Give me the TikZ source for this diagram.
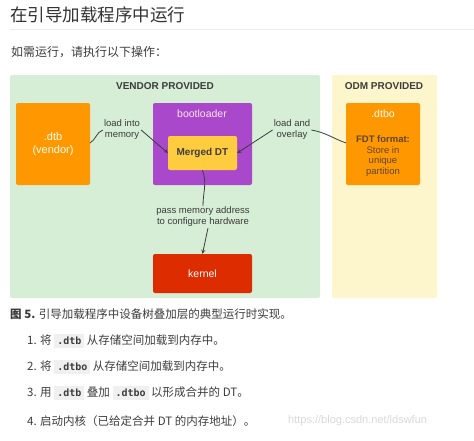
\documentclass[tikz,border=0pt]{standalone}
\usepackage{fontspec}
\setmainfont{Noto Sans CJK SC}
\setmonofont{DejaVu Sans Mono}
\newfontfamily\diagfont{Liberation Sans}
\usepackage{tikz}

\definecolor{vendorbg}{RGB}{214,238,213}
\definecolor{odmbg}{RGB}{253,246,205}
\definecolor{dtorange}{RGB}{255,152,0}
\definecolor{bootpurple}{RGB}{170,72,204}
\definecolor{mergedyellow}{RGB}{255,204,64}
\definecolor{kernelred}{RGB}{221,44,0}
\definecolor{inktext}{RGB}{60,60,60}
\definecolor{dtbotext}{RGB}{95,70,40}
\definecolor{codebg}{RGB}{240,240,240}
\newcommand{\codespan}[1]{{\setlength{\fboxsep}{3pt}\colorbox{codebg}{\ttfamily\bfseries\fontsize{10}{12}\selectfont #1}}}

\begin{document}
\begin{tikzpicture}[x=1pt,y=-1pt,>=stealth,
        panel/.style={draw=none,rounded corners=2pt},
        box/.style={draw=none,rounded corners=2pt,font=\diagfont\fontsize{10}{12}\selectfont},
        lbl/.style={inner sep=1pt,align=center,text=inktext,font=\diagfont\fontsize{9.5}{11}\selectfont},
        para/.style={anchor=west,inner sep=0pt,text=inktext},
        link/.style={draw=inktext,line width=0.8pt}]
        \useasboundingbox[fill=white] (0,0) rectangle (474,440);

        % Draw heading
        \node[para,font=\fontsize{17.5}{20}\selectfont,text=black!80] (title) at (10,15) {在引导加载程序中运行};
        \draw[black!8,line width=0.8pt] (10,29) -- (474,29);
        \node[para,font=\fontsize{12}{14}\selectfont] (intro) at (11,52) {如需运行，请执行以下操作：};

        % Draw panels
        \fill[panel,vendorbg] (10,75) rectangle (320,298);
        \fill[panel,odmbg] (332,75) rectangle (437,298);
        \node[lbl,font=\diagfont\bfseries\fontsize{10}{12}\selectfont] (vendor) at (165,86) {VENDOR PROVIDED};
        \node[lbl,font=\diagfont\bfseries\fontsize{10}{12}\selectfont] (odm) at (384,86) {ODM PROVIDED};

        % Draw boxes
        \path[box,fill=dtorange] (16,103) rectangle (90,185);
        \node[lbl,text=white!95!yellow,font=\diagfont\fontsize{11}{13}\selectfont] (dtb) at (53,144) {.dtb\\(vendor)};
        \coordinate (dtbedge) at (90,143);
        \path[box,fill=bootpurple] (153,103) rectangle (252,185);
        \node[lbl,text=white!90!purple,font=\diagfont\fontsize{10.5}{12}\selectfont] (boot) at (202,114) {bootloader};
        \node[box,fill=mergedyellow,minimum width=69pt,minimum height=34pt,inner sep=0pt,
              text=inktext,font=\diagfont\bfseries\fontsize{10}{12}\selectfont] (merged) at (202.5,153) {Merged DT};
        \node[box,fill=kernelred,minimum width=99pt,minimum height=39pt,inner sep=0pt,
              text=white,font=\diagfont\fontsize{10.5}{12}\selectfont] (kernel) at (202.5,273.5) {kernel};
        \path[box,fill=dtorange] (346,103) rectangle (420,185);
        \node[lbl,text=white!95!yellow,font=\diagfont\fontsize{10.5}{12}\selectfont] (dtbo) at (383,114) {.dtbo};
        \node[lbl,text=dtbotext,font=\diagfont\fontsize{9.5}{10.5}\selectfont] (fdt) at (383,156)
              {\textbf{FDT format:}\\Store in\\unique\\partition};
        \coordinate (dtboedge) at (346,143);

        % Draw connectors
        \node[lbl] (intolbl) at (122,130) {load into\\memory};
        \node[lbl] (overlbl) at (292,130) {load and\\overlay};
        \node[lbl] (passlbl) at (203,217) {pass memory address\\to configure hardware};
        \draw[link] (dtbedge) to[out=30,in=200] (intolbl.west);
        \draw[link,->] (intolbl.east) -- (merged.west);
        \draw[link] (dtboedge) to[out=160,in=-10] (overlbl.east);
        \draw[link,->] (overlbl.west) -- (merged.east);
        \draw[link] (merged.south) to[out=-70,in=90] (passlbl.north);
        \draw[link,->] ([xshift=5pt]passlbl.south) -- (kernel.north);

        % Caption and steps
        \node[para,font=\fontsize{11.5}{14}\selectfont] (caption) at (10,314) {\textbf{图 5.} 引导加载程序中设备树叠加层的典型运行时实现。};
        \node[para,font=\fontsize{11.5}{14}\selectfont] (stepa) at (27,341) {1. 将 \codespan{.dtb} 从存储空间加载到内存中。};
        \node[para,font=\fontsize{11.5}{14}\selectfont] (stepb) at (27,367) {2. 将 \codespan{.dtbo} 从存储空间加载到内存中。};
        \node[para,font=\fontsize{11.5}{14}\selectfont] (stepc) at (27,393) {3. 用 \codespan{.dtb} 叠加 \codespan{.dtbo} 以形成合并的 DT。};
        \node[para,font=\fontsize{11.5}{14}\selectfont] (stepd) at (27,421) {4. 启动内核（已给定合并 DT 的内存地址）。};
        \node[para,text=black!15,font=\diagfont\fontsize{11}{13}\selectfont] (mark) at (288,421) {https://blog.csdn.net/ldswfun};
\end{tikzpicture}
\end{document}
